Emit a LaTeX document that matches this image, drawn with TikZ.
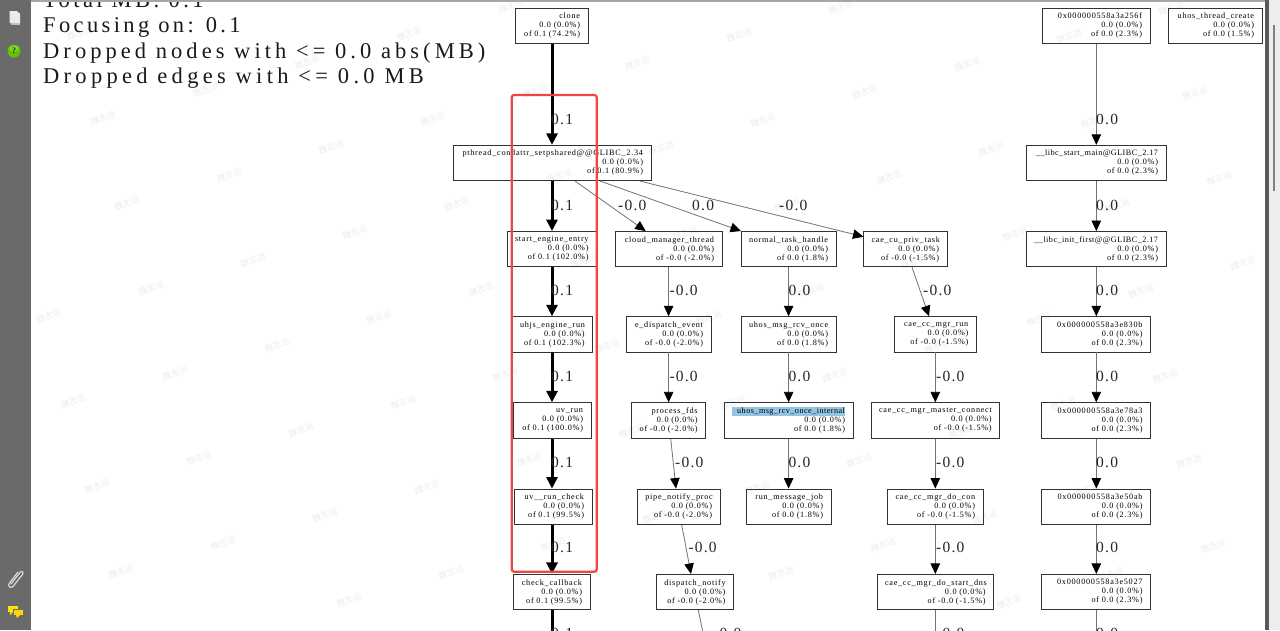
\documentclass[tikz,border=0pt]{standalone}
\usepackage{fontspec}
\usetikzlibrary{arrows.meta}
\setmainfont{Liberation Serif}
\newfontfamily\boxfont[LetterSpace=9]{Liberation Serif}
\newfontfamily\tightfont[LetterSpace=5.5]{Liberation Serif}
\newfontfamily\labfont[LetterSpace=8]{Liberation Serif}
\newfontfamily\headfont[LetterSpace=15]{Liberation Serif}
\newfontfamily\headfontb[LetterSpace=18]{Liberation Serif}
\newfontfamily\headfontc[LetterSpace=19]{Liberation Serif}
\newfontfamily\markfont{Noto Sans CJK SC}
\definecolor{sidegray}{HTML}{6A6A6A}
\definecolor{framered}{HTML}{F04545}
\definecolor{selblue}{HTML}{94C5E4}
\definecolor{helpgreen}{HTML}{62C400}
\tikzset{
  x=1pt,y=-1pt,
  pbox/.style={draw=black!80,line width=0.9pt,inner sep=0pt,font=\boxfont\fontsize{8.2}{9}\selectfont,text=black},
  fat/.style={line width=3pt,black,-{Triangle[length=11.5pt,width=11pt]}},
  slim/.style={line width=0.8pt,black!55,-{Triangle[length=10.5pt,width=9.5pt,color=black,fill=black]}},
  plain/.style={line width=0.8pt,black!55},
  fatplain/.style={line width=3pt,black},
  elab/.style={anchor=base west,inner sep=0pt,font=\labfont\fontsize{15.5}{16}\selectfont,text=black!85},
  head/.style={anchor=base west,inner sep=0pt,font=\fontsize{22.5}{24}\selectfont,text=black!90},
  wmark/.style={font=\markfont\fontsize{8.5}{10}\selectfont,text=black!7,rotate=18,inner sep=0pt},
}
% name, left, right, top, three lines
\newcommand\pbx[7]{%
  \pgfmathsetmacro\pcx{(#2+#3)/2}%
  \pgfmathsetmacro\pww{#3-#2}%
  \pgfmathsetmacro\ptw{#3-#2-16}%
  \node[pbox,minimum width=\pww pt,minimum height=35.3pt,text width=\ptw pt,align=right] (#1) at (\pcx,#4+17.65) {#5\\#6\\#7};%
}
% style, from, to, x at from, x at to
\newcommand\pedge[5]{%
  \coordinate (ea) at (#4,0);\coordinate (eb) at (#5,0);%
  \draw[#1] (#2.south -| ea) -- (#3.north -| eb);%
}
\newcommand\ptail[4]{%
  \coordinate (ea) at (#3,0);%
  \draw[#1] (#2.south -| ea) -- (#4);%
}
\newcommand\elb[4]{\node[elab] (#1) at (#2,#3) {#4};}
\begin{document}
\begin{tikzpicture}
\useasboundingbox (0,0) rectangle (1280,630);
\clip (0,0) rectangle (1280,630);
\fill[white] (0,0) rectangle (1280,630);
% watermarks
\foreach \i in {-8,...,14}{\foreach \j in {-5,...,10}{%
  \pgfmathsetmacro\wx{205+102*\i+126*\j}%
  \pgfmathsetmacro\wy{90-28*\i+57*\j}%
  \pgfmathtruncatemacro\wok{(\wx>40)&&(\wx<1255)&&(\wy>5)&&(\wy<625)?1:0}%
  \ifnum\wok=1 \node[wmark] at (\wx,\wy) {魏志远};\fi
}}
% header
\node[head] (h0) at (43,7) {\headfont Total MB: 0.1};
\node[head] (h1) at (43,32) {\headfont Focusing on: 0.1};
\node[head] (h2) at (43,58) {\headfontb Dropped nodes with <= 0.0 abs(MB)};
\node[head] (h3) at (43,83.5) {\headfontc Dropped edges with <= 0.0 MB};
% selection highlight
\fill[selblue] (731.7,407) rectangle (844.7,415.5);
% nodes
\pbx{clone}{515}{588}{8}{clone}{0.0 (0.0\%)}{of 0.1 (74.2\%)}
\pbx{pth}{453}{651}{145.3}{pthread\_condattr\_setpshared@@GLIBC\_2.34}{0.0 (0.0\%)}{of 0.1 (80.9\%)}
\pbx{see}{507}{596.5}{231.5}{start\_engine\_entry}{0.0 (0.0\%)}{of 0.1 (102.0\%)}
\pbx{uhjs}{512}{592.7}{316.7}{uhjs\_engine\_run}{0.0 (0.0\%)}{of 0.1 (102.3\%)}
\pbx{uvrun}{513}{591}{402.8}{uv\_run}{0.0 (0.0\%)}{of 0.1 (100.0\%)}
\pbx{uvchk}{514.3}{592}{489}{uv\_\_run\_check}{0.0 (0.0\%)}{of 0.1 (99.5\%)}
\pbx{chk}{513.3}{590}{574.4}{check\_callback}{0.0 (0.0\%)}{of 0.1 (99.5\%)}
\pbx{cloud}{615.7}{722}{231.5}{cloud\_manager\_thread}{0.0 (0.0\%)}{of -0.0 (-2.0\%)}
\pbx{edisp}{626.7}{711}{316.7}{e\_dispatch\_event}{0.0 (0.0\%)}{of -0.0 (-2.0\%)}
\pbx{pfds}{631.3}{705.6}{402.8}{process\_fds}{0.0 (0.0\%)}{of -0.0 (-2.0\%)}
\pbx{pipe}{637.3}{720}{489}{pipe\_notify\_proc}{0.0 (0.0\%)}{of -0.0 (-2.0\%)}
\pbx{dnot}{656.3}{733.3}{574.4}{dispatch\_notify}{0.0 (0.0\%)}{of -0.0 (-2.0\%)}
\pbx{ntask}{741}{836}{231.5}{normal\_task\_handle}{0.0 (0.0\%)}{of 0.0 (1.8\%)}
\pbx{urcv}{741}{836}{316.7}{uhos\_msg\_rcv\_once}{0.0 (0.0\%)}{of 0.0 (1.8\%)}
\pbx{uint}{724.3}{853}{402.8}{{\tightfont uhos\_msg\_rcv\_once\_internal}}{0.0 (0.0\%)}{of 0.0 (1.8\%)}
\pbx{rmsg}{746}{831}{489}{run\_message\_job}{0.0 (0.0\%)}{of 0.0 (1.8\%)}
\pbx{cupriv}{863.5}{947}{231.5}{cae\_cu\_priv\_task}{0.0 (0.0\%)}{of -0.0 (-1.5\%)}
\pbx{ccrun}{894.3}{976.3}{316.7}{cae\_cc\_mgr\_run}{0.0 (0.0\%)}{of -0.0 (-1.5\%)}
\pbx{ccmc}{871}{999.7}{402.8}{cae\_cc\_mgr\_master\_connect}{0.0 (0.0\%)}{of -0.0 (-1.5\%)}
\pbx{cccon}{887.6}{983}{489}{cae\_cc\_mgr\_do\_con}{0.0 (0.0\%)}{of -0.0 (-1.5\%)}
\pbx{ccdns}{877}{993.6}{574.4}{cae\_cc\_mgr\_do\_start\_dns}{0.0 (0.0\%)}{of -0.0 (-1.5\%)}
\pbx{a256}{1042.5}{1150}{8}{0x000000558a3a256f}{0.0 (0.0\%)}{of 0.0 (2.3\%)}
\pbx{utc}{1168}{1262}{8}{uhos\_thread\_create}{0.0 (0.0\%)}{of 0.0 (1.5\%)}
\pbx{lsm}{1026.4}{1166}{145.3}{{\tightfont \_\_libc\_start\_main@GLIBC\_2.17}}{0.0 (0.0\%)}{of 0.0 (2.3\%)}
\pbx{lif}{1026.4}{1166}{231.5}{{\tightfont \_\_libc\_init\_first@@GLIBC\_2.17}}{0.0 (0.0\%)}{of 0.0 (2.3\%)}
\pbx{a830}{1041.7}{1150.5}{316.7}{0x000000558a3e830b}{0.0 (0.0\%)}{of 0.0 (2.3\%)}
\pbx{a78a}{1041.7}{1150.5}{402.8}{0x000000558a3e78a3}{0.0 (0.0\%)}{of 0.0 (2.3\%)}
\pbx{a50a}{1041.7}{1150.5}{489}{0x000000558a3e50ab}{0.0 (0.0\%)}{of 0.0 (2.3\%)}
\pbx{a502}{1041.7}{1150.5}{574.4}{0x000000558a3e5027}{0.0 (0.0\%)}{of 0.0 (2.3\%)}
% free ends below the visible area
\coordinate (b1) at (552,640);
\coordinate (b2) at (704.5,640);
\coordinate (b4) at (935.3,640);
\coordinate (b5) at (1096.3,640);
% connectors
\pedge{fat}{clone}{pth}{552}{552}
\pedge{fat}{pth}{see}{552}{552}
\pedge{fat}{see}{uhjs}{552}{552}
\pedge{fat}{uhjs}{uvrun}{552}{552}
\pedge{fat}{uvrun}{uvchk}{552}{552}
\pedge{fat}{uvchk}{chk}{552}{552}
\ptail{fatplain}{chk}{552}{b1}
\pedge{slim}{pth}{cloud}{575}{645.7}
\pedge{slim}{pth}{ntask}{600}{741}
\coordinate (cuin) at (863.5,236.7);
\coordinate (ea) at (640,0);
\draw[slim] (pth.south -| ea) -- (cuin);
\pedge{slim}{cloud}{edisp}{668.6}{668.6}
\pedge{slim}{edisp}{pfds}{668.6}{668.6}
\pedge{slim}{pfds}{pipe}{670.7}{676}
\pedge{slim}{pipe}{dnot}{681.7}{691}
\ptail{plain}{dnot}{698.3}{b2}
\pedge{slim}{ntask}{urcv}{788.6}{788.6}
\pedge{slim}{urcv}{uint}{788.6}{788.6}
\pedge{slim}{uint}{rmsg}{788.6}{788.6}
\pedge{slim}{cupriv}{ccrun}{912}{929}
\pedge{slim}{ccrun}{ccmc}{935.3}{935.3}
\pedge{slim}{ccmc}{cccon}{935.3}{935.3}
\pedge{slim}{cccon}{ccdns}{935.3}{935.3}
\ptail{plain}{ccdns}{935.3}{b4}
\pedge{slim}{a256}{lsm}{1096.3}{1096.3}
\pedge{slim}{lsm}{lif}{1096.3}{1096.3}
\pedge{slim}{lif}{a830}{1096.3}{1096.3}
\pedge{slim}{a830}{a78a}{1096.3}{1096.3}
\pedge{slim}{a78a}{a50a}{1096.3}{1096.3}
\pedge{slim}{a50a}{a502}{1096.3}{1096.3}
\ptail{plain}{a502}{1096.3}{b5}
% edge labels
\elb{la1}{551}{124}{0.1}
\elb{la2}{551}{210}{0.1}
\elb{la3}{551}{295}{0.1}
\elb{la4}{551}{381}{0.1}
\elb{la5}{551}{467}{0.1}
\elb{la6}{551}{552.7}{0.1}
\elb{la7}{551}{638.5}{0.1}
\elb{lb1}{618}{210}{-0.0}
\elb{lb2}{669.3}{295}{-0.0}
\elb{lb3}{669.3}{381}{-0.0}
\elb{lb4}{675}{467}{-0.0}
\elb{lb5}{688.3}{552.7}{-0.0}
\elb{lb6}{713}{638.5}{-0.0}
\elb{lc1}{692}{210}{0.0}
\elb{lc2}{788.3}{295}{0.0}
\elb{lc3}{788.3}{381}{0.0}
\elb{lc4}{788.3}{467}{0.0}
\elb{ld1}{779}{210}{-0.0}
\elb{ld2}{923}{295}{-0.0}
\elb{ld3}{936}{381}{-0.0}
\elb{ld4}{936}{467}{-0.0}
\elb{ld5}{936}{552.7}{-0.0}
\elb{ld6}{936}{638.5}{-0.0}
\elb{le1}{1096}{124}{0.0}
\elb{le2}{1096}{210}{0.0}
\elb{le3}{1096}{295}{0.0}
\elb{le4}{1096}{381}{0.0}
\elb{le5}{1096}{467}{0.0}
\elb{le6}{1096}{552.7}{0.0}
\elb{le7}{1096}{638.5}{0.0}
% red annotation frame
\draw[framered,line width=2.2pt,rounded corners=2.5pt] (511.7,95) rectangle (596.8,571.7);
% viewer chrome
\fill[sidegray] (0,0) rectangle (31,630);
\fill[black!35] (31,0) rectangle (1265,2);
\fill[black!65] (1265,0) rectangle (1269,630);
\fill[black!7] (1269,0) rectangle (1280,630);
\fill[black!50] (1273.4,25) rectangle (1275,191);
% document icon
\fill[black!25] (11,13) rectangle (20,25);
\fill[white!92!black] (9.5,11) -- (17,11) -- (20,14) -- (20,23) -- (9.5,23) -- cycle;
% help icon
\fill[helpgreen] (14,51) circle (6.5);
\fill[white,opacity=.25] (14,48.5) ellipse (4.5 and 3);
\node[font=\fontsize{8.5}{8.5}\selectfont\bfseries,text=black!75!green,inner sep=0pt] (helpq) at (14,51) {?};
% paperclip icon
\draw[black!12,line width=1.1pt,line cap=round,line join=round] (11,584) -- (20,572.5) .. controls (22,570) and (24,572) .. (22.5,574.5) -- (13,586.5) .. controls (10.5,589) and (7,586) .. (9.5,583) -- (18,572);
% comment icons
\fill[yellow!85!orange] (8,606) rectangle (18,612);
\fill[yellow!85!orange] (10,612) -- (13,612) -- (10,615) -- cycle;
\fill[yellow!75!orange,draw=sidegray,line width=0.4pt] (13,609) rectangle (23,615);
\fill[yellow!75!orange] (16,615) -- (20,615) -- (17,618) -- cycle;
\end{tikzpicture}
\end{document}
